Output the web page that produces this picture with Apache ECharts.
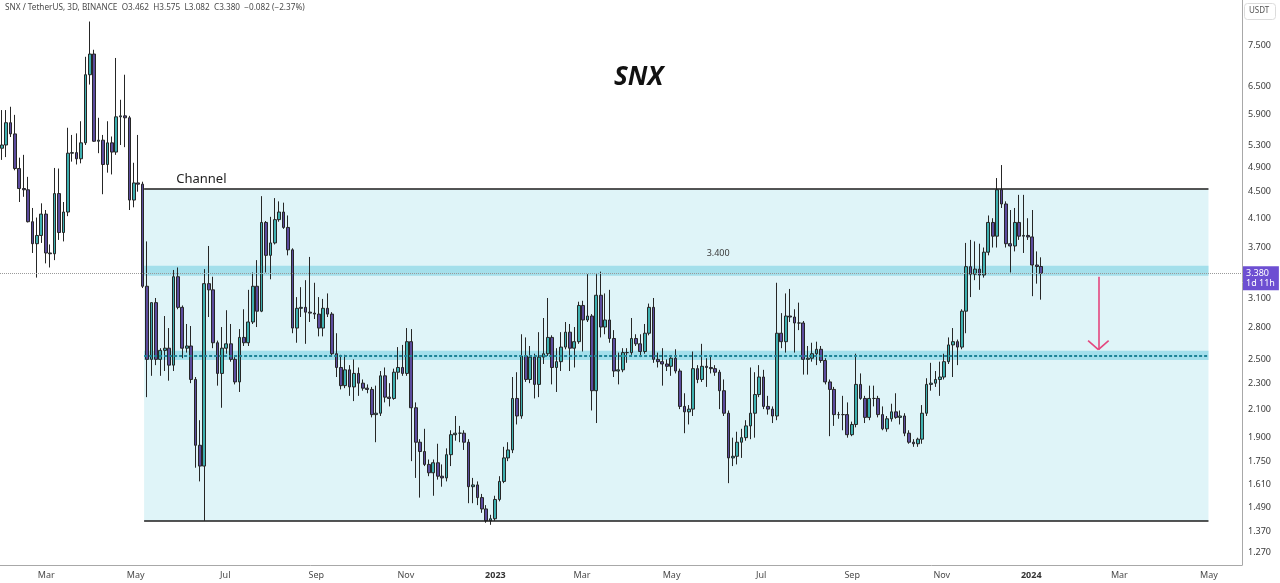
<!DOCTYPE html>
<html>
<head>
<meta charset="utf-8">
<title>SNX / TetherUS 3D</title>
<script src="https://cdn.jsdelivr.net/npm/echarts@6/dist/echarts.min.js"></script>
<style>
  html, body { margin: 0; padding: 0; background: #fff; }
  #chart { width: 1280px; height: 583px; }
</style>
</head>
<body>
<div id="chart"></div>
<script>
const DAY = 86400000;
const utc = (s) => Date.parse(s + 'T00:00:00Z');

// 3D candles, first one opens 2022-01-28
const firstCandle = '2022-01-28';

const opens = [
  5.24,5.30,5.73,5.51,4.88,4.55,4.53,4.05,3.75,3.86,4.16,3.63,3.62,4.47,3.90,4.19,5.15,5.16,5.05,5.34,6.78,7.29,5.37,5.39,4.95,5.34,5.17,5.85,5.87,5.83,4.37,4.64,4.62,
  3.23,2.50,3.05,2.50,2.58,2.60,2.45,3.34,3.00,2.60,2.62,2.33,1.85,1.72,3.26,3.19,2.65,2.38,2.60,2.64,2.50,2.31,2.70,2.65,2.85,3.23,2.96,4.04,3.60,3.76,4.08,4.19,3.97,3.67,
  2.79,2.99,3.00,2.95,2.94,2.93,2.79,2.99,2.93,2.55,2.43,2.28,2.41,2.27,2.38,2.30,2.26,2.25,2.06,2.07,2.36,2.19,2.18,2.39,2.43,2.38,2.66,2.11,1.87,1.81,1.73,1.68,1.74,
  1.66,1.65,1.79,1.92,1.93,1.93,1.87,1.60,1.61,1.54,1.48,1.42,1.43,1.53,1.63,1.77,1.82,2.18,2.05,2.53,2.33,2.52,2.29,2.52,2.55,2.70,2.43,2.48,2.61,2.75,2.60,2.66,3.02,2.87,2.91,2.24,
  3.13,2.80,2.87,2.69,2.40,2.41,2.56,2.56,2.69,2.64,2.57,2.74,3.00,2.50,2.48,2.46,2.44,2.51,2.40,2.12,2.08,2.10,2.42,2.33,2.44,2.43,2.42,2.39,2.24,2.07,1.77,1.78,1.87,1.90,
  1.98,2.07,2.21,2.35,2.12,2.10,2.05,2.74,2.66,2.91,2.90,2.84,2.84,2.50,2.51,2.55,2.59,2.49,2.31,2.25,2.06,2.06,2.06,1.92,1.99,2.29,2.18,2.04,2.18,2.18,2.06,1.96,2.03,2.08,
  2.04,2.05,1.93,1.87,1.86,1.89,2.07,2.29,2.30,2.33,2.35,2.48,2.63,2.66,2.61,2.96,3.46,3.37,3.43,3.36,3.64,4.04,3.85,4.53,4.31,3.75,3.72,4.04,3.85,3.86,3.84,3.48,3.462
];
const closes = [
  5.30,5.73,5.51,4.88,4.55,4.53,4.05,3.75,3.86,4.16,3.63,3.62,4.47,3.90,4.19,5.15,5.16,5.05,5.34,6.78,7.29,5.37,5.39,4.95,5.34,5.17,5.85,5.87,5.83,4.37,4.64,4.62,3.23,
  2.50,3.05,2.50,2.58,2.60,2.45,3.34,3.00,2.60,2.62,2.33,1.85,1.72,3.26,3.19,2.65,2.38,2.60,2.64,2.50,2.31,2.70,2.65,2.85,3.23,2.96,4.04,3.60,3.76,4.08,4.19,3.97,3.67,2.79,
  2.99,3.00,2.95,2.94,2.93,2.79,2.99,2.93,2.55,2.43,2.28,2.41,2.27,2.38,2.30,2.26,2.25,2.06,2.07,2.36,2.19,2.18,2.39,2.43,2.38,2.66,2.11,1.87,1.81,1.73,1.68,1.74,1.66,
  1.65,1.79,1.92,1.93,1.93,1.87,1.60,1.61,1.54,1.48,1.42,1.43,1.53,1.63,1.77,1.82,2.18,2.05,2.53,2.33,2.52,2.29,2.52,2.55,2.70,2.43,2.48,2.61,2.75,2.60,2.66,3.02,2.87,2.91,2.24,3.13,
  2.80,2.87,2.69,2.40,2.41,2.56,2.56,2.69,2.64,2.57,2.74,3.00,2.50,2.48,2.46,2.44,2.51,2.40,2.12,2.08,2.10,2.42,2.33,2.44,2.43,2.42,2.39,2.24,2.07,1.77,1.78,1.87,1.90,1.98,
  2.07,2.21,2.35,2.12,2.10,2.05,2.74,2.66,2.91,2.90,2.84,2.84,2.50,2.51,2.55,2.59,2.49,2.31,2.25,2.06,2.06,2.06,1.92,1.99,2.29,2.18,2.04,2.18,2.18,2.06,1.96,2.03,2.08,2.04,
  2.05,1.93,1.87,1.86,1.89,2.07,2.29,2.30,2.33,2.35,2.48,2.63,2.66,2.61,2.96,3.46,3.37,3.43,3.36,3.64,4.04,3.85,4.53,4.31,3.75,3.72,4.04,3.85,3.86,3.84,3.48,3.462,3.38
];
const highs = [
  5.99,5.99,6.06,5.89,5.07,5.12,4.74,4.25,4.11,4.32,4.22,3.74,4.89,4.88,4.34,5.63,5.49,5.52,5.76,7.22,8.17,7.40,5.83,5.49,5.76,5.46,7.19,6.21,6.78,5.87,4.98,5.49,4.66,
  3.78,3.05,3.10,2.60,2.91,2.79,3.42,3.45,3.02,2.83,2.81,2.35,2.02,3.43,3.72,3.34,2.67,2.80,2.97,2.83,2.52,2.78,2.98,3.19,3.39,3.54,4.43,4.06,4.12,4.40,4.35,4.33,4.14,3.69,
  3.11,3.22,3.30,3.58,3.27,3.11,3.09,3.15,2.95,2.74,2.54,2.54,2.45,2.50,2.43,2.33,2.29,2.27,2.28,2.40,2.43,2.30,2.42,2.61,2.63,2.79,2.78,2.15,1.89,1.96,1.76,1.76,1.86,
  1.73,1.83,1.95,2.05,1.98,1.95,1.89,1.65,1.63,1.56,1.50,1.45,1.55,1.66,1.84,1.87,2.35,2.39,2.73,2.70,2.62,2.55,2.75,2.89,3.10,2.72,2.60,2.75,2.85,2.83,2.80,3.06,3.07,3.37,2.93,3.37,
  3.40,3.15,3.19,2.77,2.56,2.60,2.60,2.89,2.73,2.73,2.83,3.04,3.10,2.56,2.60,2.50,2.52,2.59,2.42,2.22,2.13,2.57,2.45,2.64,2.51,2.53,2.45,2.41,2.33,2.09,1.90,1.94,1.96,2.02,
  2.43,2.39,2.45,2.41,2.20,2.12,3.27,2.94,3.15,3.20,2.98,3.05,2.86,2.62,2.65,2.66,2.62,2.51,2.33,2.27,2.08,2.20,2.15,2.01,2.55,2.38,2.20,2.28,2.28,2.20,2.12,2.05,2.14,2.22,
  2.09,2.07,1.95,1.89,1.90,2.13,2.34,2.47,2.40,2.48,2.55,2.70,2.79,2.68,2.98,3.76,3.80,3.78,3.75,3.70,4.14,4.10,4.72,4.94,4.35,4.22,4.25,4.45,4.45,4.10,4.22,3.65,3.575
];
const lows = [
  5.03,5.08,5.45,4.85,4.34,4.42,4.04,3.63,3.33,3.76,3.50,3.45,3.54,3.80,3.78,4.13,5.00,4.95,4.97,5.30,6.55,5.36,5.15,4.46,4.81,4.78,5.12,5.30,5.26,4.22,4.26,4.50,3.21,
  2.19,2.36,2.45,2.36,2.40,2.32,2.40,2.98,2.51,2.56,2.30,1.71,1.63,1.42,2.90,2.60,2.28,2.11,2.55,2.48,2.29,2.23,2.62,2.62,2.83,2.80,2.95,3.39,3.31,3.74,4.05,3.95,3.60,2.74,
  2.65,2.90,2.64,2.85,2.88,2.71,2.71,2.90,2.53,2.35,2.25,2.26,2.20,2.16,2.20,2.24,2.22,2.04,1.87,2.05,2.15,2.12,2.17,2.33,2.36,2.36,1.75,1.65,1.54,1.72,1.66,1.55,1.64,
  1.60,1.63,1.72,1.88,1.87,1.82,1.51,1.51,1.50,1.46,1.41,1.40,1.42,1.52,1.62,1.75,1.80,1.99,2.03,2.31,2.30,2.18,2.19,2.46,2.53,2.29,2.23,2.40,2.59,2.40,2.43,2.64,2.57,2.85,2.09,2.00,
  2.70,2.73,2.65,2.35,2.29,2.39,2.47,2.54,2.62,2.52,2.55,2.72,2.47,2.43,2.28,2.40,2.36,2.38,2.10,1.93,1.99,2.05,2.30,2.31,2.27,2.38,2.36,2.10,2.05,1.62,1.72,1.73,1.77,1.88,
  1.89,1.90,2.19,2.10,2.06,2.00,2.02,2.60,2.56,2.85,2.56,2.77,2.37,2.37,2.48,2.45,2.47,2.29,1.91,1.98,2.03,1.95,1.90,1.91,1.97,2.17,2.00,2.02,2.12,2.04,1.95,1.94,2.01,2.03,
  1.99,1.91,1.86,1.84,1.84,1.86,2.05,2.24,2.27,2.20,2.33,2.46,2.35,2.45,2.59,2.74,3.11,3.30,3.19,3.33,3.60,3.70,3.70,4.25,3.70,3.39,3.65,3.80,3.63,3.80,3.12,3.26,3.082
];

// axis labels
const timeLabelDates = ['2022-03-01','2022-05-01','2022-07-01','2022-09-01','2022-11-01','2023-01-01',
  '2023-03-01','2023-05-01','2023-07-01','2023-09-01','2023-11-01','2024-01-01','2024-03-01','2024-05-01'];
const timeLabels = ['Mar','May','Jul','Sep','Nov','2023','Mar','May','Jul','Sep','Nov','2024','Mar','May'];
const priceTicks = [7.5, 6.5, 5.9, 5.3, 4.9, 4.5, 4.1, 3.7, 3.1, 2.8, 2.5, 2.3, 2.1, 1.9, 1.75, 1.61, 1.49, 1.37, 1.27];

// drawings
const channelFrom = '2022-05-05', channelTo = '2024-04-29';
const channelTop = 4.54, channelBottom = 1.419;
const resistanceBand = [3.35, 3.47];
const supportBand = [2.495, 2.576];
const supportMid = 2.535;
const arrowDate = '2024-02-14', arrowFrom = 3.34, arrowTo = 2.586, arrowWing = 2.67;
const lastPrice = closes[closes.length - 1];

const start = utc(firstCandle);
const candles = opens.map((o, i) => [start + i * 3 * DAY, o, closes[i], lows[i], highs[i]]);

const axisMin = start - 1.16 * DAY;
const axisMax = axisMin + 846 * DAY;
const labelTimes = timeLabelDates.map(utc);

const prevClose = closes[closes.length - 2];
const chg = lastPrice - prevClose;
const header = 'SNX / TetherUS, 3D, BINANCE  O' + opens[opens.length - 1].toFixed(3) +
  '  H' + highs[highs.length - 1].toFixed(3) + '  L' + lows[lows.length - 1].toFixed(3) +
  '  C' + lastPrice.toFixed(3) + '  \u2212' + Math.abs(chg).toFixed(3) +
  ' (\u2212' + Math.abs(chg / prevClose * 100).toFixed(2) + '%)';

const chart = echarts.init(document.getElementById('chart'));
const seg = (d1, v1, d2, v2, style) => [{ coord: [utc(d1), v1], lineStyle: style }, { coord: [utc(d2), v2] }];
const channelLine = { color: '#1c1c1c', width: 1.5, type: 'solid' };

chart.setOption({
  animation: false,
  useUTC: true,
  backgroundColor: '#ffffff',
  textStyle: { fontFamily: 'Noto Sans, DejaVu Sans, sans-serif' },
  title: {
    text: 'SNX', left: 609, top: 60,
    textStyle: { fontSize: 26, fontWeight: 'bold', fontStyle: 'italic', color: '#111', fontFamily: 'Open Sans, sans-serif' }
  },
  grid: { left: 0, right: 38, top: 0, bottom: 18 },
  xAxis: {
    type: 'time', min: axisMin, max: axisMax,
    splitNumber: 12, minInterval: 60 * DAY, maxInterval: 62 * DAY,
    axisLine: { show: true, lineStyle: { color: '#a8a8a8' } },
    axisTick: { show: false },
    splitLine: { show: false },
    axisLabel: {
      formatter: (v) => {
        const i = labelTimes.findIndex((t) => Math.abs(t - v) < DAY / 2);
        const s = i >= 0 ? timeLabels[i] : '';
        return /^\d+$/.test(s) ? '{yr|' + s + '}' : s;
      },
      fontSize: 9, color: '#4a4a4a', margin: 6, hideOverlap: false, padding: [0, 5, 0, 0],
      rich: { yr: { fontSize: 9, fontWeight: 'bold', color: '#333' } }
    }
  },
  yAxis: {
    type: 'log', logBase: 10, position: 'right', min: 1.216, max: 8.81,
    axisLine: { show: true, lineStyle: { color: '#a8a8a8' } },
    axisTick: { show: false },
    splitLine: { show: false },
    axisLabel: {
      customValues: priceTicks,
      formatter: (v) => Number(v).toFixed(3),
      fontSize: 9, color: '#3a3a3a', margin: 6, hideOverlap: false
    }
  },
  graphic: [
    { type: 'text', left: 5, top: 4, style: { text: header, fontSize: 8.2, fill: '#4a4a4a', fontFamily: 'Noto Sans, sans-serif' } },
    { type: 'rect', left: 1244, top: 3, shape: { width: 31, height: 16, r: 3 }, style: { fill: '#fff', stroke: '#dcdcdc', lineWidth: 1 } },
    { type: 'text', left: 1249, top: 7, style: { text: 'USDT', fontSize: 8, fill: '#555', fontFamily: 'Noto Sans, sans-serif' } }
  ],
  series: [
    {
      // channel and zones (under the candles)
      type: 'line', data: [], z: 1, silent: true,
      markArea: {
        silent: true,
        data: [
          [{ coord: [utc(channelFrom), channelTop], itemStyle: { color: '#dff4f8' } }, { coord: [utc(channelTo), channelBottom] }],
          [{ coord: [utc(channelFrom), resistanceBand[1]], itemStyle: { color: '#a3dfeb' } }, { coord: [utc(channelTo), resistanceBand[0]] }],
          [{ coord: [utc(channelFrom), supportBand[1]], itemStyle: { color: '#a3dfeb' } }, { coord: [utc(channelTo), supportBand[0]] }]
        ]
      },
      markLine: {
        silent: true, symbol: 'none', label: { show: false },
        data: [
          seg(channelFrom, supportMid, channelTo, supportMid, { color: '#1f8497', width: 2, type: [3, 2] })
        ]
      }
    },
    {
      type: 'candlestick', z: 3,
      data: candles,
      barWidth: 3.2,
      itemStyle: {
        color: '#3eb0b0', color0: '#5b4b9d',
        borderColor: '#262626', borderColor0: '#262626', borderWidth: 1
      }
    },
    {
      type: 'line', data: [], z: 4, silent: true,
      markLine: {
        silent: true, symbol: 'none', label: { show: false },
        data: [
          {
            yAxis: lastPrice,
            lineStyle: { color: '#9a9a9a', width: 1, type: 'dotted' },
            label: {
              show: true, position: 'end', distance: 1,
              formatter: lastPrice.toFixed(3) + '\n1d 11h',
              backgroundColor: '#6d4fd2', color: '#fff', fontSize: 9, lineHeight: 10,
              padding: [2, 4, 2, 3], offset: [0, 5]
            }
          },
          seg(channelFrom, channelTop, channelTo, channelTop, channelLine),
          seg(channelFrom, channelBottom, channelTo, channelBottom, channelLine)
        ]
      },
      markPoint: {
        silent: true, symbol: 'circle', symbolSize: 0,
        data: [
          { coord: [utc('2022-06-13'), 4.70], label: { show: true, formatter: 'Channel', fontSize: 13, color: '#222' } },
          { coord: [utc('2023-05-31'), 3.63], label: { show: true, formatter: '3.400', fontSize: 9, color: '#3a3a3a' } }
        ]
      }
    },
    {
      // down arrow
      type: 'line', data: [], z: 5, silent: true,
      markLine: {
        silent: true, symbol: 'none', label: { show: false },
        lineStyle: { color: '#e4467e', width: 1.6, type: 'solid' },
        data: [
          seg(arrowDate, arrowFrom, arrowDate, arrowTo),
          [{ coord: [utc(arrowDate) - 7 * DAY, arrowWing] }, { coord: [utc(arrowDate), arrowTo] }],
          [{ coord: [utc(arrowDate) + 7 * DAY, arrowWing] }, { coord: [utc(arrowDate), arrowTo] }]
        ]
      }
    }
  ]
});
</script>
</body>
</html>
